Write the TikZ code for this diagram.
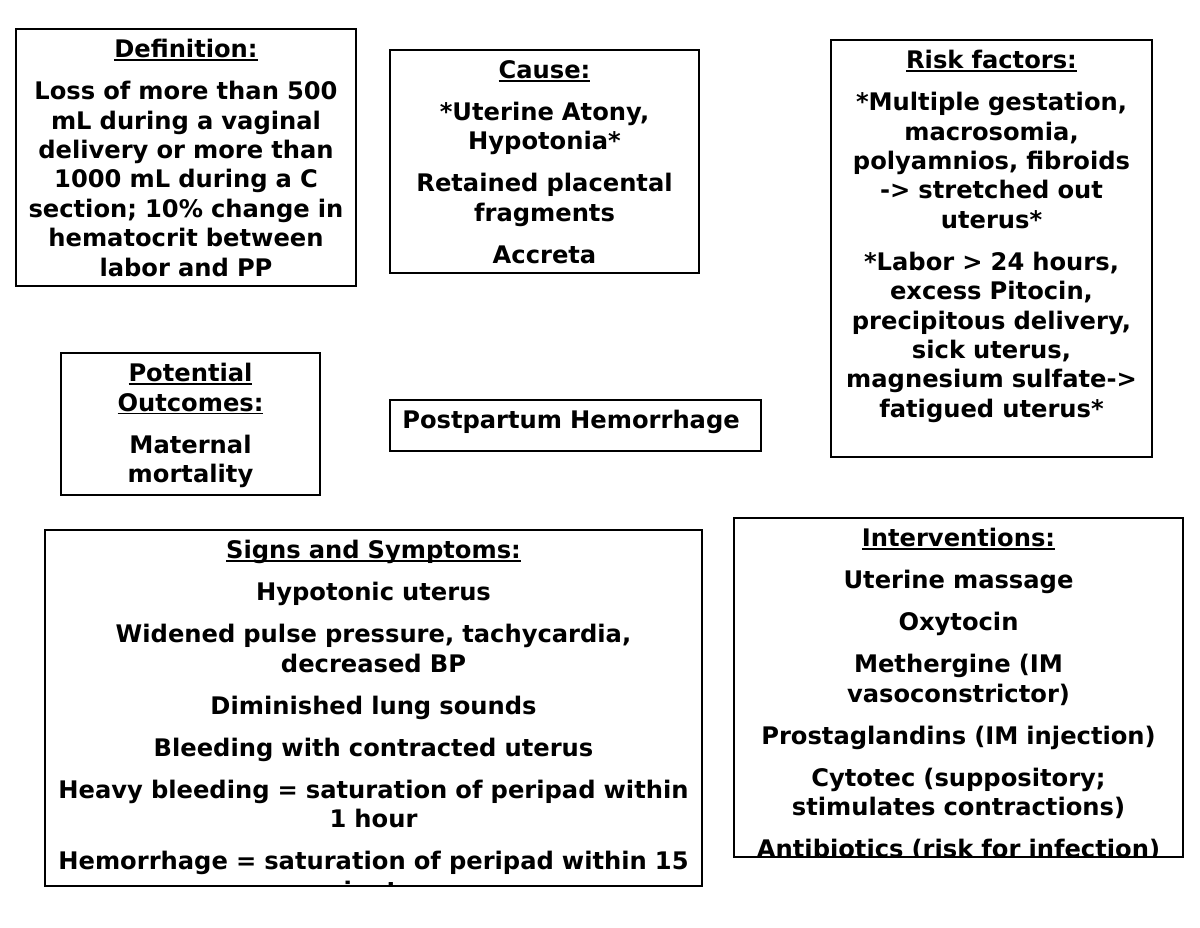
\documentclass[tikz,border=0pt]{standalone}
\usepackage{fontspec}
\setmainfont{DejaVu Sans}
\usetikzlibrary{calc}
\usetikzlibrary{fit}
\newcommand{\ulhead}[1]{\leavevmode\setbox0\hbox{#1}\rlap{\rule[-2.4pt]{\wd0}{1.3pt}}\box0}

\begin{document}
\begin{tikzpicture}[
     x=0.025cm, y=-0.025cm,
     box/.style={draw, line width=1.4pt, inner sep=0pt},
     txt/.style={anchor=north, inner sep=0pt, align=center, text width=#1,
       font=\fontsize{17.2}{20.9}\selectfont\bfseries}
   ]
   \useasboundingbox (0,0) rectangle (1200,927);
   % Boxes.
   \node[box, fit={(16,29) (356,286)}] (def) {};
   \node[box, fit={(390,50) (699,273)}] (cause) {};
   \node[box, fit={(831,40) (1152,457)}] (risk) {};
   \node[box, fit={(61,353) (320,495)}] (outc) {};
   \node[box, fit={(390,400) (761,451)}] (pph) {};
   \node[box, fit={(45,530) (702,886)}] (sign) {};
   \node[box, fit={(734,518) (1183,857)}] (interv) {};
   % Texts.
   \node[txt=9cm] (deftxt) at ($(def.north)+(0,11)$) {\ulhead{Definition:}\\[9pt]
     Loss of more than 500\\ mL during a vaginal\\ delivery or more than\\
     1000 mL during a C\\ section; 10\% change in\\ hematocrit between\\ labor and PP};
   \node[txt=8cm] (causetxt) at ($(cause.north)+(0,11)$) {\ulhead{Cause:}\\[9pt]
     *Uterine Atony,\\ Hypotonia*\\[9pt] Retained placental\\ fragments\\[9pt] Accreta};
   \node[txt=8.5cm] (risktxt) at ($(risk.north)+(0,11)$) {\ulhead{Risk factors:}\\[9pt]
     *Multiple gestation,\\ macrosomia,\\ polyamnios, fibroids\\ -> stretched out\\ uterus*\\[9pt]
     *Labor > 24 hours,\\ excess Pitocin,\\ precipitous delivery,\\ sick uterus,\\
     magnesium sulfate->\\ fatigued uterus*};
   \node[txt=7cm] (outctxt) at ($(outc.north)+(0,11)$) {\ulhead{Potential}\\ \ulhead{Outcomes:}\\[9pt]
     Maternal\\ mortality};
   \node[txt=9cm, anchor=north west, align=left] (pphtxt) at ($(pph.north west)+(13,11)$)
     {Postpartum Hemorrhage};
   \begin{scope}
     \clip ($(sign.north west)+(1,1)$) rectangle ($(sign.south east)+(-1,-3)$);
     \node[txt=17cm] (signtxt) at ($(sign.north)+(0,11)$) {\ulhead{Signs and Symptoms:}\\[9pt]
       Hypotonic uterus\\[9pt] Widened pulse pressure, tachycardia,\\ decreased BP\\[9pt]
       Diminished lung sounds\\[9pt] Bleeding with contracted uterus\\[9pt]
       Heavy bleeding = saturation of peripad within\\ 1 hour\\[9pt]
       Hemorrhage = saturation of peripad within 15\\ minutes};
   \end{scope}
   \begin{scope}
     \clip ($(interv.north west)+(1,1)$) rectangle ($(interv.south east)+(-1,-1)$);
     \node[txt=11.5cm] (intervtxt) at ($(interv.north)+(0,11)$) {\ulhead{Interventions:}\\[9pt]
       Uterine massage\\[9pt] Oxytocin\\[9pt] Methergine (IM\\ vasoconstrictor)\\[9pt]
       Prostaglandins (IM injection)\\[9pt] Cytotec (suppository;\\ stimulates contractions)\\[9pt]
       Antibiotics (risk for infection)};
   \end{scope}
\end{tikzpicture}
\end{document}
